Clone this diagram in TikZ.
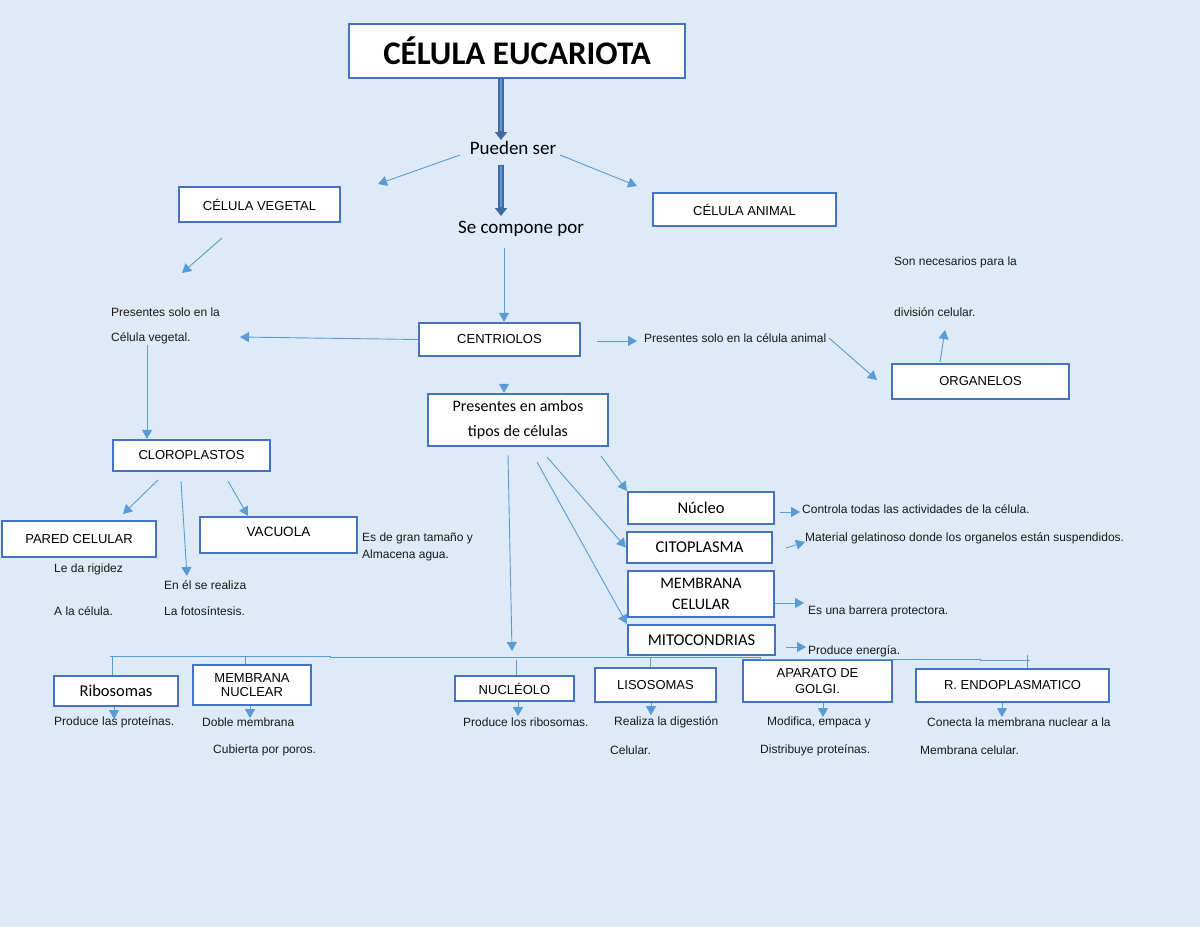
\documentclass[tikz,border=0pt]{standalone}
\usepackage{fontspec}
\setmainfont{Liberation Sans}
\newfontfamily\calf{Carlito}
\usetikzlibrary{arrows.meta}
\definecolor{bg}{RGB}{222,234,247}
\definecolor{boxc}{RGB}{68,114,196}
\definecolor{arc}{RGB}{91,155,213}
\definecolor{thk}{RGB}{65,105,160}
\begin{document}
\begin{tikzpicture}[x=1pt,y=-1pt,
  box/.style={draw=boxc, line width=2.2pt, fill=white, inner sep=0pt, align=center, font=\fontsize{13}{15}\selectfont},
  cbox/.style={box, font=\calf\fontsize{16.5}{19}\selectfont},
  arr/.style={draw=arc, line width=0.9pt, -{Triangle[width=10pt,length=9pt]}},
  ln/.style={draw=arc, line width=1pt},
  thickarr/.style={draw=thk, line width=6pt, -{Triangle[width=12pt,length=8pt]}},
  thickcore/.style={draw=arc, line width=2.4pt, shorten >=9pt, shorten <=0.5pt},
  txt/.style={anchor=west, inner sep=0pt, font=\fontsize{12}{14}\selectfont, text=black!90},
  stxt/.style={txt},
  ctxt/.style={inner sep=0pt, font=\calf\fontsize{19}{22}\selectfont}]
\useasboundingbox (0,0) rectangle (1200,927);
\fill[bg] (0,0) rectangle (1200,927);

% boxes
\node[box, minimum width=336pt, minimum height=54pt, font=\calf\bfseries\fontsize{33}{36}\selectfont] (title) at (517,51) {CÉLULA EUCARIOTA};
\node[box, minimum width=161pt, minimum height=35pt] (veg) at (259.5,204.5) {CÉLULA VEGETAL};
\node[box, minimum width=183pt, minimum height=33pt] (anim) at (744.5,209.5) {CÉLULA ANIMAL};
\node[box, minimum width=161pt, minimum height=33pt] (cent) at (499.5,339.5) {CENTRIOLOS};
\node[box, minimum width=177pt, minimum height=35pt] (org) at (980.5,381.5) {ORGANELOS};
\node[box, minimum width=180pt, minimum height=52pt, font=\calf\fontsize{16}{25}\selectfont] (amb) at (518,420) {Presentes en ambos\\tipos de células};
\node[box, minimum width=157pt, minimum height=31pt] (clo) at (191.5,455.5) {CLOROPLASTOS};
\node[box, minimum width=154pt, minimum height=36pt] (pared) at (79,539) {PARED CELULAR};
\node[box, minimum width=157pt, minimum height=36pt] (vac) at (278.5,535) {};
\node[font=\fontsize{13.5}{15}\selectfont, inner sep=0pt] (vact) at (278.5,532) {VACUOLA};
\node[cbox, minimum width=146pt, minimum height=32pt] (nuc) at (701,508) {Núcleo};
\node[cbox, minimum width=145pt, minimum height=31pt] (cito) at (699.5,547.5) {CITOPLASMA};
\node[cbox, minimum width=146pt, minimum height=46pt, font=\calf\fontsize{16}{21}\selectfont] (memc) at (701,594) {MEMBRANA\\CELULAR};
\node[cbox, minimum width=147pt, minimum height=30pt] (mito) at (701.5,640) {MITOCONDRIAS};
\node[cbox, minimum width=124pt, minimum height=30pt] (rib) at (116,691) {Ribosomas};
\node[box, minimum width=118pt, minimum height=40pt, font=\fontsize{13}{14}\selectfont] (memn) at (252,685) {MEMBRANA\\NUCLEAR};
\node[box, minimum width=119pt, minimum height=25pt] (nucl) at (514.5,688.5) {NUCLÉOLO};
\node[box, minimum width=121pt, minimum height=34pt] (lis) at (655.5,685) {LISOSOMAS};
\node[box, minimum width=149pt, minimum height=42pt, font=\fontsize{13}{16}\selectfont] (golgi) at (817.5,681) {APARATO DE\\GOLGI.};
\node[box, minimum width=193pt, minimum height=33pt] (re) at (1012.5,685.5) {R. ENDOPLASMATICO};

% free texts
\node[ctxt] (pueden) at (513,148) {Pueden ser};
\node[ctxt] (secomp) at (521,229) {Se compone por};
\node[txt] (pv1) at (111,312) {Presentes solo en la};
\node[txt] (pv2) at (111,338) {Célula vegetal.};
\node[txt] (pa) at (644,338) {Presentes solo en la célula animal};
\node[txt] (sn1) at (894,262) {Son necesarios para la};
\node[txt] (sn2) at (894,312) {división celular.};
\node[txt] (eg1) at (362,538) {Es de gran tamaño y};
\node[txt] (eg2) at (362,555) {Almacena agua.};
\node[txt] (ld1) at (54,569) {Le da rigidez};
\node[txt] (ld2) at (54,611) {A la célula.};
\node[txt] (ef1) at (164,585) {En él se realiza};
\node[txt] (ef2) at (164,611) {La fotosíntesis.};
\node[stxt] (tnuc) at (802,509) {Controla todas las actividades de la célula.};
\node[stxt] (tcito) at (805,538) {Material gelatinoso donde los organelos están suspendidos.};
\node[txt] (tmemc) at (808,611) {Es una barrera protectora.};
\node[txt] (tmito) at (808,651) {Produce energía.};
\node[stxt] (trib) at (54,722) {Produce las proteínas.};
\node[stxt] (tmn1) at (202,722) {Doble membrana};
\node[stxt] (tmn2) at (213,750) {Cubierta por poros.};
\node[stxt] (tnucl) at (463,722) {Produce los ribosomas.};
\node[stxt] (tlis1) at (614,722) {Realiza la digestión};
\node[stxt] (tlis2) at (610,750) {Celular.};
\node[stxt] (tg1) at (767,722) {Modifica, empaca y};
\node[stxt] (tg2) at (760,750) {Distribuye proteínas.};
\node[stxt] (tre1) at (927,722) {Conecta la membrana nuclear a la};
\node[stxt] (tre2) at (920,750) {Membrana celular.};

% coordinates
\coordinate (a1) at (501,78);
\coordinate (a2) at (501,140);
\coordinate (a3) at (501,165);
\coordinate (a4) at (501,216);
\coordinate (p1) at (460,155); \coordinate (p2) at (378,184);
\coordinate (p3) at (560,155); \coordinate (p4) at (637,186);
\coordinate (v1) at (222,238); \coordinate (v2) at (182,273);
\coordinate (c0) at (504,248);
\coordinate (cl) at (240,337);
\coordinate (cr1) at (597,341); \coordinate (cr2) at (637,341);
\coordinate (o1) at (829,338); \coordinate (o2) at (877,380);
\coordinate (o3) at (940,362); \coordinate (o4) at (945,330);
\coordinate (am0) at (504,385);
\coordinate (pv0) at (147,345);
\coordinate (k1) at (158,480); \coordinate (k2) at (123,514);
\coordinate (k3) at (181,481); \coordinate (k4) at (187,576);
\coordinate (k5) at (228,481);
\coordinate (m1) at (508,455); \coordinate (m2) at (512,651);
\coordinate (m3) at (537,462); \coordinate (m4) at (547,457); \coordinate (m5) at (601,456);
\coordinate (n1) at (780,512); \coordinate (n2) at (800,512);
\coordinate (n3) at (786,548); \coordinate (n4) at (805,542);
\coordinate (n5) at (775,603); \coordinate (n6) at (804,603);
\coordinate (n7) at (786,647); \coordinate (n8) at (806,647);
\coordinate (bL) at (110,656); \coordinate (bR) at (1030,660);

% connectors
\draw[thickarr] (a1) -- (a2);
\draw[thickcore] (a1) -- (a2);
\draw[thickarr] (a3) -- (a4);
\draw[thickcore] (a3) -- (a4);
\draw[arr] (p1) -- (p2);
\draw[arr] (p3) -- (p4);
\draw[arr] (v1) -- (v2);
\draw[arr] (c0) -- (c0 |- cent.north);
\draw[arr] (cent.west) -- (cl);
\draw[arr] (cr1) -- (cr2);
\draw[arr] (o1) -- (o2);
\draw[arr] (o3) -- (o4);
\draw[arr] (am0) -- (am0 |- amb.north);
\draw[arr] (pv0) -- (pv0 |- clo.north);
\draw[arr] (k1) -- (k2);
\draw[arr] (k3) -- (k4);
\draw[arr] (k5) -- (vac.north -| 248,0);
\draw[arr] (m1) -- (m2);
\draw[arr] (m3) -- (mito.north west);
\draw[arr] (m4) -- (cito.west);
\draw[arr] (m5) -- (nuc.north west);
\draw[arr] (n1) -- (n2);
\draw[arr] (n3) -- (n4);
\draw[arr] (n5) -- (n6);
\draw[arr] (n7) -- (n8);
% bus
\draw[ln] (bL) -- (330,656) -- (330,657) -- (760,657) -- (760,659) -- (980,659) -- (980,660) -- (bR);
\draw[ln] (112,656) -- (112,0 |- rib.north);
\draw[ln] (245,656) -- (245,0 |- memn.north);
\draw[ln] (516,660) -- (516,0 |- nucl.north);
\draw[ln] (650,657) -- (650,0 |- lis.north);
\draw[ln] (1027,655) -- (1027,0 |- re.north);
% small arrows under bottom boxes
\draw[arr] (rib.south -| 114,0) -- ++(0,12);
\draw[arr] (memn.south -| 250,0) -- ++(0,12);
\draw[arr] (nucl.south -| 518,0) -- ++(0,14);
\draw[arr] (lis.south -| 651,0) -- ++(0,12);
\draw[arr] (golgi.south -| 823,0) -- ++(0,14);
\draw[arr] (re.south -| 1002,0) -- ++(0,14);
\end{tikzpicture}
\end{document}
